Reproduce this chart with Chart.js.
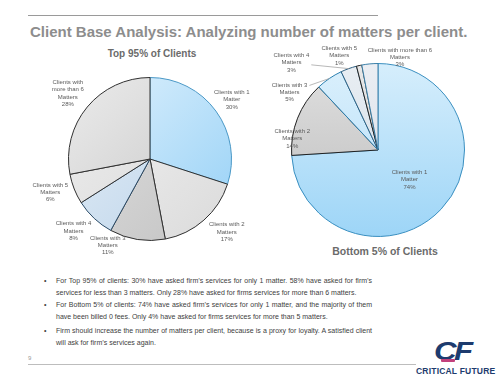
<!DOCTYPE html>
<html>
<head>
<meta charset="utf-8">
<script src="https://cdn.jsdelivr.net/npm/chart.js@4.4.1/dist/chart.umd.min.js"></script>
<style>
body { margin:0; width:500px; height:375px; background:#fff; position:relative; overflow:hidden; font-family:"Liberation Sans", Arial, sans-serif; }
.abs { position:absolute; }
.title { left:30px; top:24px; font-size:15px; line-height:15px; font-weight:bold; color:#8d8d8d; white-space:nowrap; }
.ptitle { font-size:10px; line-height:10px; font-weight:bold; color:#6b6b6b; white-space:nowrap; transform:translateX(-50%); }
.line { left:56px; width:316px; font-size:7px; line-height:8px; color:#404040; white-space:nowrap; }
.just { text-align:justify; text-align-last:justify; }
.bul { left:44px; font-size:7px; line-height:8px; color:#404040; }
</style>
</head>
<body>
<div class="abs" style="left:28px;top:15px;width:350px;height:1px;background:#9a9a9a"></div>
<div class="abs title">Client Base Analysis: Analyzing number of matters per client.</div>

<div class="abs ptitle" style="left:152px;top:49px">Top 95% of Clients</div>
<div class="abs ptitle" style="left:385px;top:246px;font-size:10.5px">Bottom 5% of Clients</div>

<canvas id="topChart" class="abs" width="260" height="210" style="left:20px;top:60px;width:260px;height:210px"></canvas>
<canvas id="bottomChart" class="abs" width="240" height="220" style="left:260px;top:40px;width:240px;height:220px"></canvas>

<div class="abs bul" style="top:277px">•</div>
<div class="abs line just" style="top:277px">For Top 95% of clients: 30% have asked firm’s services for only 1 matter. 58% have asked for firm’s</div>
<div class="abs line" style="top:289px">services for less than 3 matters. Only 28% have asked for firms services for more than 6 matters.</div>
<div class="abs bul" style="top:301px">•</div>
<div class="abs line just" style="top:301px">For Bottom 5% of clients: 74% have asked firm’s services for only 1 matter, and the majority of them</div>
<div class="abs line" style="top:313px">have been billed 0 fees. Only 4% have asked for firms services for more than 5 matters.</div>
<div class="abs bul" style="top:327px">•</div>
<div class="abs line just" style="top:327px">Firm should increase the number of matters per client, because is a proxy for loyalty. A satisfied client</div>
<div class="abs line" style="top:339px">will ask for firm’s services again.</div>

<div class="abs" style="left:28px;top:355px;font-size:6px;color:#999">9</div>
<div class="abs" style="left:28px;top:364px;width:388px;height:1px;background:#bdbdbd"></div>

<div class="abs" style="left:434px;top:339px;font-size:25px;line-height:25px;font-weight:900;font-style:italic;color:#1d3b6e;letter-spacing:-2px;transform:scaleX(1.25);transform-origin:left">CF</div>
<div class="abs" style="left:441px;top:359px;width:14px;height:3px;background:#c2407c;border-radius:1px"></div>
<div class="abs" style="left:416px;top:367px;font-size:8.5px;line-height:9px;font-weight:bold;color:#1d3b6e;letter-spacing:0.2px;white-space:nowrap">CRITICAL FUTURE</div>

<script>
// values, clockwise from 12 o'clock
var categories = ['Clients with 1 Matter', 'Clients with 2 Matters', 'Clients with 3 Matters', 'Clients with 4 Matters', 'Clients with 5 Matters', 'Clients with more than 6 Matters'];
var topValues = [30, 17, 11, 8, 6, 28];
var bottomValues = [74, 14, 5, 3, 1, 3];

var topNames = [['Clients with 1', 'Matter'], ['Clients with 2', 'Matters'], ['Clients with 3', 'Matters'], ['Clients with 4', 'Matters'], ['Clients with 5', 'Matters'], ['Clients with', 'more than 6', 'Matters']];
var bottomNames = [['Clients with 1', 'Matter'], ['Clients with 2', 'Matters'], ['Clients with 3', 'Matters'], ['Clients with 4', 'Matters'], ['Clients with 5', 'Matters'], ['Clients with more than 6', 'Matters']];

// one scriptable fill per chart, picking a gradient pair by slice index
function gradFill(pairs, diag) {
	return function(context) {
		var chart = context.chart, a = chart.chartArea;
		var c = pairs[context.dataIndex] || pairs[0];
		if(!a) { return c[1]; }
		var g = diag ? chart.ctx.createLinearGradient(a.left, a.top, a.right, a.bottom)
			: chart.ctx.createLinearGradient(0, a.top, 0, a.bottom);
		g.addColorStop(0, c[0]);
		g.addColorStop(1, c[1]);
		return g;
	};
}

var sliceLabels = {
	id: 'sliceLabels',
	afterDatasetsDraw: function(chart, args, opts) {
		var ctx = chart.ctx;
		var arcs = chart.getDatasetMeta(0).data;
		var values = chart.data.datasets[0].data;
		var lh = 7.3;
		ctx.save();
		ctx.font = '6px "Liberation Sans", Arial, sans-serif';
		ctx.textAlign = 'center';
		ctx.textBaseline = 'middle';
		arcs.forEach(function(arc, i) {
			var p = opts.place[i];
			var mid = (arc.startAngle + arc.endAngle) / 2;
			var ang = mid + p[0] * Math.PI / 180;
			var r = arc.outerRadius * p[1];
			var x = arc.x + Math.cos(ang) * r;
			var y = arc.y + Math.sin(ang) * r;
			var lines = opts.names[i].concat([values[i] + '%']);
			var top = y - (lines.length - 1) * lh / 2;
			if(p[2]) {
				var w = 0;
				lines.forEach(function(l) { w = Math.max(w, ctx.measureText(l).width); });
				var h = lines.length * lh;
				var ex = arc.x + Math.cos(mid) * arc.outerRadius;
				var ey = arc.y + Math.sin(mid) * arc.outerRadius;
				var dx = ex - x, dy = ey - y;
				var t = Math.min((w / 2 + 2) / Math.abs(dx || 0.01), (h / 2 + 1) / Math.abs(dy || 0.01));
				if(t < 1) {
					ctx.strokeStyle = '#9a9a9a';
					ctx.lineWidth = 0.7;
					ctx.beginPath();
					ctx.moveTo(x + dx * t, y + dy * t);
					ctx.lineTo(ex, ey);
					ctx.stroke();
				}
			}
			ctx.fillStyle = '#5a5a5a';
			lines.forEach(function(l, j) {
				ctx.fillText(l, x, top + j * lh);
			});
		});
		ctx.restore();
	}
};

function makePie(id, values, fill, borders, padding, names, place) {
	return new Chart(document.getElementById(id), {
		type: 'pie',
		data: {
			labels: categories,
			datasets: [{
				data: values,
				backgroundColor: fill,
				borderColor: borders,
				borderWidth: 1
			}]
		},
		options: {
			responsive: false,
			animation: false,
			layout: { padding: padding },
			plugins: {
				legend: { display: false },
				tooltip: { enabled: false },
				sliceLabels: { names: names, place: place }
			}
		},
		plugins: [sliceLabels]
	});
}

makePie('topChart', topValues,
	gradFill([['#e2f2fd', '#94d0f6'], ['#f4f4f4', '#dadada'], ['#e2e2e2', '#c2c2c2'],
		['#e6eff7', '#b9d2e9'], ['#efefef', '#d6d6d6'], ['#ebebeb', '#c4c4c4']], true),
	['#4a98c6', '#303030', '#303030', '#2a4a66', '#303030', '#303030'],
	{ left: 48, right: 48, top: 17, bottom: 29 },
	topNames,
	[[0, 1.24], [-5, 1.3], [17, 1.18], [3.5, 1.29], [3, 1.29], [-1, 1.29]]);

makePie('bottomChart', bottomValues,
	gradFill([['#d6eefc', '#9dd5f7'], ['#e0e0e0', '#bbbbbb'], ['#dbf0fc', '#b0dcf9'],
		['#e9eef3', '#cfdae5'], ['#e8e8e8', '#d0d0d0'], ['#ebeef3', '#d5dce7']], false),
	['#3a8fc0', '#202020', '#2a7fb0', '#2f5f80', '#202020', '#3a7fa8'],
	{ left: 31, right: 35, top: 23, bottom: 23 },
	bottomNames,
	[[0, 0.5], [-14, 1.0], [-22.7, 1.22, true], [-25, 1.42, true], [-9.7, 1.18, true], [18.7, 1.1, true]]);
</script>
</body>
</html>
